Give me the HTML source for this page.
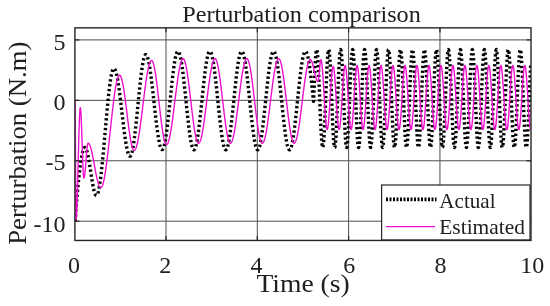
<!DOCTYPE html>
<html><head><meta charset="utf-8"><title>Perturbation comparison</title>
<style>html,body{margin:0;padding:0;background:#fff;}svg{display:block;}</style></head>
<body>
<svg width="550" height="306" viewBox="0 0 550 306" font-family="'Liberation Serif', 'Times New Roman', serif" fill="#202020">
<rect width="550" height="306" fill="#fff"/>
<line x1="166.0" y1="27.85" x2="166.0" y2="240.45" stroke="#4d4d4d" stroke-width="1"/>
<line x1="257.3" y1="27.85" x2="257.3" y2="240.45" stroke="#4d4d4d" stroke-width="1"/>
<line x1="348.6" y1="27.85" x2="348.6" y2="240.45" stroke="#4d4d4d" stroke-width="1"/>
<line x1="439.95" y1="27.85" x2="439.95" y2="240.45" stroke="#4d4d4d" stroke-width="1"/>
<line x1="74.9" y1="39.9" x2="531.0" y2="39.9" stroke="#4d4d4d" stroke-width="1"/>
<line x1="74.9" y1="100.33" x2="531.0" y2="100.33" stroke="#4d4d4d" stroke-width="1"/>
<line x1="74.9" y1="160.77" x2="531.0" y2="160.77" stroke="#4d4d4d" stroke-width="1"/>
<line x1="74.9" y1="221.2" x2="531.0" y2="221.2" stroke="#4d4d4d" stroke-width="1"/>
<clipPath id="c"><rect x="74.9" y="27.85" width="456.1" height="212.6"/></clipPath>
<g clip-path="url(#c)" fill="none">
<path d="M75.20,221.25 L75.44,217.25 L75.69,213.79 L75.93,210.51 L76.17,207.36 L76.41,204.31 L76.66,201.34 L76.90,198.44 L77.14,195.62 L77.38,192.87 L77.62,190.18 L77.87,187.57 L78.11,185.02 L78.35,182.54 L78.59,180.13 L78.84,177.80 L79.08,175.54 L79.32,173.35 L79.56,171.24 L79.81,169.21 L80.05,167.26 L80.29,165.40 L80.54,163.61 L80.78,161.92 L81.02,160.31 L81.26,158.79 L81.51,157.36 L81.75,156.02 L81.99,154.78 L82.23,153.63 L82.48,152.57 L82.72,151.62 L82.96,150.76 L83.20,150.00 L83.45,149.34 L83.69,148.78 L83.93,148.32 L84.17,147.96 L84.42,147.71 L84.66,147.55 L84.90,147.50 L85.15,147.56 L85.40,147.72 L85.65,148.00 L85.90,148.39 L86.15,148.88 L86.40,149.48 L86.65,150.18 L86.90,150.99 L87.15,151.88 L87.40,152.87 L87.65,153.94 L87.90,155.10 L88.15,156.33 L88.40,157.63 L88.65,159.00 L88.90,160.43 L89.15,161.90 L89.40,163.42 L89.65,164.98 L89.90,166.57 L90.15,168.18 L90.40,169.81 L90.65,171.44 L90.90,173.07 L91.15,174.70 L91.40,176.31 L91.65,177.90 L91.90,179.46 L92.15,180.98 L92.40,182.45 L92.65,183.88 L92.90,185.24 L93.15,186.55 L93.40,187.78 L93.65,188.93 L93.90,190.01 L94.15,191.00 L94.40,191.89 L94.65,192.69 L94.90,193.40 L95.15,194.00 L95.40,194.49 L95.65,194.88 L95.90,195.15 L96.15,195.32 L96.40,195.38 L96.65,195.31 L96.90,195.12 L97.15,194.80 L97.40,194.36 L97.65,193.79 L97.90,193.09 L98.15,192.27 L98.40,191.33 L98.65,190.27 L98.90,189.10 L99.15,187.81 L99.40,186.40 L99.65,184.89 L99.90,183.27 L100.15,181.54 L100.40,179.72 L100.65,177.80 L100.90,175.79 L101.15,173.69 L101.40,171.50 L101.65,169.24 L101.90,166.90 L102.15,164.49 L102.40,162.01 L102.65,159.48 L102.90,156.89 L103.15,154.25 L103.40,151.56 L103.65,148.84 L103.90,146.08 L104.15,143.29 L104.40,140.48 L104.65,137.65 L104.90,134.81 L105.15,131.97 L105.40,129.12 L105.65,126.28 L105.90,123.45 L106.15,120.64 L106.40,117.85 L106.65,115.10 L106.90,112.37 L107.15,109.68 L107.40,107.04 L107.65,104.45 L107.90,101.92 L108.15,99.44 L108.40,97.03 L108.65,94.69 L108.90,92.43 L109.15,90.24 L109.40,88.14 L109.65,86.13 L109.90,84.21 L110.15,82.39 L110.40,80.66 L110.65,79.04 L110.90,77.53 L111.15,76.12 L111.40,74.83 L111.65,73.66 L111.90,72.60 L112.15,71.66 L112.40,70.84 L112.65,70.14 L112.90,69.57 L113.15,69.13 L113.40,68.81 L113.65,68.62 L113.90,68.55 L114.15,68.61 L114.40,68.76 L114.65,69.03 L114.91,69.40 L115.16,69.87 L115.41,70.44 L115.66,71.12 L115.91,71.89 L116.16,72.76 L116.42,73.73 L116.67,74.79 L116.92,75.94 L117.17,77.18 L117.42,78.50 L117.67,79.91 L117.93,81.39 L118.18,82.95 L118.43,84.58 L118.68,86.27 L118.93,88.03 L119.18,89.85 L119.43,91.72 L119.69,93.64 L119.94,95.61 L120.19,97.61 L120.44,99.66 L120.69,101.73 L120.94,103.83 L121.20,105.95 L121.45,108.08 L121.70,110.23 L121.95,112.38 L122.20,114.53 L122.45,116.68 L122.70,118.81 L122.96,120.93 L123.21,123.03 L123.46,125.10 L123.71,127.14 L123.96,129.15 L124.21,131.12 L124.47,133.04 L124.72,134.91 L124.97,136.73 L125.22,138.49 L125.47,140.18 L125.72,141.81 L125.97,143.37 L126.23,144.85 L126.48,146.26 L126.73,147.58 L126.98,148.82 L127.23,149.97 L127.48,151.03 L127.74,152.00 L127.99,152.87 L128.24,153.64 L128.49,154.32 L128.74,154.89 L128.99,155.36 L129.25,155.73 L129.50,155.99 L129.75,156.15 L130.00,156.21 L130.25,156.14 L130.50,155.95 L130.75,155.64 L131.00,155.20 L131.25,154.64 L131.50,153.95 L131.76,153.14 L132.01,152.22 L132.26,151.18 L132.51,150.02 L132.76,148.76 L133.01,147.38 L133.26,145.90 L133.51,144.33 L133.76,142.65 L134.01,140.88 L134.26,139.03 L134.51,137.09 L134.77,135.07 L135.02,132.98 L135.27,130.82 L135.52,128.59 L135.77,126.31 L136.02,123.98 L136.27,121.60 L136.52,119.18 L136.77,116.73 L137.02,114.25 L137.27,111.74 L137.52,109.22 L137.77,106.69 L138.03,104.16 L138.28,101.63 L138.53,99.11 L138.78,96.61 L139.03,94.13 L139.28,91.68 L139.53,89.26 L139.78,86.88 L140.03,84.54 L140.28,82.26 L140.53,80.04 L140.78,77.88 L141.03,75.79 L141.29,73.77 L141.54,71.83 L141.79,69.97 L142.04,68.20 L142.29,66.53 L142.54,64.95 L142.79,63.47 L143.04,62.10 L143.29,60.83 L143.54,59.68 L143.79,58.64 L144.04,57.71 L144.30,56.91 L144.55,56.22 L144.80,55.66 L145.05,55.22 L145.30,54.90 L145.55,54.71 L145.80,54.65 L146.05,54.71 L146.30,54.87 L146.56,55.15 L146.81,55.53 L147.06,56.03 L147.31,56.63 L147.57,57.34 L147.82,58.15 L148.07,59.07 L148.32,60.09 L148.58,61.20 L148.83,62.41 L149.08,63.71 L149.33,65.10 L149.58,66.58 L149.84,68.15 L150.09,69.79 L150.34,71.50 L150.59,73.29 L150.85,75.15 L151.10,77.06 L151.35,79.04 L151.60,81.07 L151.86,83.15 L152.11,85.28 L152.36,87.44 L152.61,89.64 L152.86,91.86 L153.12,94.11 L153.37,96.38 L153.62,98.67 L153.87,100.96 L154.13,103.25 L154.38,105.54 L154.63,107.82 L154.88,110.09 L155.14,112.34 L155.39,114.57 L155.64,116.77 L155.89,118.93 L156.14,121.05 L156.40,123.13 L156.65,125.16 L156.90,127.14 L157.15,129.06 L157.41,130.91 L157.66,132.70 L157.91,134.42 L158.16,136.06 L158.42,137.62 L158.67,139.10 L158.92,140.49 L159.17,141.80 L159.42,143.01 L159.68,144.12 L159.93,145.14 L160.18,146.05 L160.43,146.87 L160.69,147.57 L160.94,148.18 L161.19,148.67 L161.44,149.06 L161.70,149.33 L161.95,149.50 L162.20,149.56 L162.45,149.50 L162.70,149.31 L162.95,149.01 L163.20,148.58 L163.45,148.04 L163.70,147.38 L163.96,146.60 L164.21,145.70 L164.46,144.70 L164.71,143.58 L164.96,142.36 L165.21,141.03 L165.46,139.60 L165.71,138.07 L165.96,136.45 L166.21,134.74 L166.46,132.95 L166.71,131.08 L166.97,129.12 L167.22,127.10 L167.47,125.01 L167.72,122.86 L167.97,120.66 L168.22,118.40 L168.47,116.10 L168.72,113.77 L168.97,111.39 L169.22,108.99 L169.47,106.57 L169.72,104.14 L169.97,101.69 L170.23,99.25 L170.48,96.80 L170.73,94.37 L170.98,91.95 L171.23,89.55 L171.48,87.18 L171.73,84.84 L171.98,82.54 L172.23,80.28 L172.48,78.08 L172.73,75.93 L172.98,73.84 L173.23,71.82 L173.49,69.87 L173.74,67.99 L173.99,66.20 L174.24,64.49 L174.49,62.87 L174.74,61.34 L174.99,59.91 L175.24,58.59 L175.49,57.36 L175.74,56.25 L175.99,55.24 L176.24,54.35 L176.50,53.57 L176.75,52.90 L177.00,52.36 L177.25,51.93 L177.50,51.63 L177.75,51.45 L178.00,51.39 L178.25,51.45 L178.50,51.62 L178.75,51.92 L179.00,52.34 L179.25,52.87 L179.50,53.52 L179.75,54.29 L180.00,55.16 L180.25,56.15 L180.50,57.24 L180.75,58.44 L181.00,59.74 L181.25,61.15 L181.50,62.64 L181.75,64.23 L182.00,65.91 L182.25,67.67 L182.50,69.51 L182.75,71.43 L183.00,73.42 L183.25,75.47 L183.50,77.59 L183.75,79.76 L184.00,81.98 L184.25,84.25 L184.50,86.55 L184.75,88.89 L185.00,91.26 L185.25,93.65 L185.50,96.06 L185.75,98.48 L186.00,100.91 L186.25,103.33 L186.50,105.75 L186.75,108.15 L187.00,110.54 L187.25,112.90 L187.50,115.23 L187.75,117.53 L188.00,119.79 L188.25,121.99 L188.50,124.15 L188.75,126.25 L189.00,128.29 L189.25,130.26 L189.50,132.16 L189.75,133.98 L190.00,135.72 L190.25,137.37 L190.50,138.94 L190.75,140.41 L191.00,141.79 L191.25,143.06 L191.50,144.24 L191.75,145.30 L192.00,146.26 L192.25,147.11 L192.50,147.84 L192.75,148.46 L193.00,148.96 L193.25,149.35 L193.50,149.62 L193.75,149.77 L194.00,149.79 L194.25,149.70 L194.50,149.49 L194.75,149.16 L195.00,148.72 L195.25,148.15 L195.50,147.47 L195.75,146.68 L196.00,145.78 L196.25,144.76 L196.50,143.64 L196.75,142.41 L197.00,141.08 L197.25,139.66 L197.50,138.14 L197.75,136.52 L198.00,134.82 L198.25,133.04 L198.50,131.18 L198.75,129.24 L199.00,127.24 L199.25,125.17 L199.50,123.04 L199.75,120.85 L200.00,118.62 L200.25,116.34 L200.50,114.02 L200.75,111.68 L201.00,109.30 L201.25,106.90 L201.50,104.49 L201.75,102.07 L202.00,99.65 L202.25,97.22 L202.50,94.81 L202.75,92.41 L203.00,90.03 L203.25,87.67 L203.50,85.35 L203.75,83.06 L204.00,80.82 L204.25,78.62 L204.50,76.48 L204.75,74.40 L205.00,72.38 L205.25,70.42 L205.50,68.55 L205.75,66.74 L206.00,65.03 L206.25,63.39 L206.50,61.85 L206.75,60.40 L207.00,59.05 L207.25,57.81 L207.50,56.66 L207.75,55.62 L208.00,54.69 L208.25,53.87 L208.50,53.17 L208.75,52.58 L209.00,52.11 L209.25,51.75 L209.50,51.52 L209.75,51.40 L210.00,51.40 L210.25,51.52 L210.50,51.76 L210.75,52.12 L211.00,52.60 L211.25,53.20 L211.50,53.90 L211.75,54.73 L212.00,55.66 L212.25,56.70 L212.50,57.85 L212.75,59.11 L213.00,60.46 L213.25,61.91 L213.50,63.46 L213.75,65.09 L214.00,66.82 L214.25,68.62 L214.50,70.50 L214.75,72.46 L215.00,74.48 L215.25,76.56 L215.50,78.71 L215.75,80.91 L216.00,83.15 L216.25,85.44 L216.50,87.77 L216.75,90.12 L217.00,92.50 L217.25,94.91 L217.50,97.32 L217.75,99.74 L218.00,102.17 L218.25,104.59 L218.50,107.00 L218.75,109.40 L219.00,111.77 L219.25,114.12 L219.50,116.43 L219.75,118.71 L220.00,120.94 L220.25,123.12 L220.50,125.25 L220.75,127.32 L221.00,129.32 L221.25,131.26 L221.50,133.11 L221.75,134.89 L222.00,136.59 L222.25,138.20 L222.50,139.72 L222.75,141.14 L223.00,142.46 L223.25,143.69 L223.50,144.80 L223.75,145.81 L224.00,146.72 L224.25,147.50 L224.50,148.18 L224.75,148.74 L225.00,149.18 L225.25,149.50 L225.50,149.71 L225.75,149.80 L226.00,149.76 L226.25,149.61 L226.50,149.34 L226.75,148.95 L227.00,148.44 L227.25,147.81 L227.50,147.08 L227.75,146.22 L228.00,145.26 L228.25,144.19 L228.50,143.01 L228.75,141.73 L229.00,140.35 L229.25,138.88 L229.50,137.31 L229.75,135.65 L230.00,133.91 L230.25,132.08 L230.50,130.18 L230.75,128.21 L231.00,126.17 L231.25,124.07 L231.50,121.91 L231.75,119.70 L232.00,117.44 L232.25,115.14 L232.50,112.81 L232.75,110.44 L233.00,108.06 L233.25,105.65 L233.50,103.23 L233.75,100.81 L234.00,98.39 L234.25,95.97 L234.50,93.56 L234.75,91.17 L235.00,88.80 L235.25,86.46 L235.50,84.16 L235.75,81.89 L236.00,79.67 L236.25,77.50 L236.50,75.39 L236.75,73.34 L237.00,71.35 L237.25,69.44 L237.50,67.60 L237.75,65.84 L238.00,64.17 L238.25,62.58 L238.50,61.09 L238.75,59.69 L239.00,58.39 L239.25,57.20 L239.50,56.11 L239.75,55.12 L240.00,54.25 L240.25,53.49 L240.50,52.85 L240.75,52.32 L241.00,51.91 L241.25,51.61 L241.50,51.44 L241.75,51.39 L242.00,51.45 L242.25,51.63 L242.50,51.94 L242.75,52.36 L243.00,52.90 L243.25,53.55 L243.50,54.32 L243.75,55.20 L244.00,56.19 L244.25,57.29 L244.50,58.49 L244.75,59.80 L245.00,61.20 L245.25,62.70 L245.50,64.30 L245.75,65.98 L246.00,67.74 L246.25,69.59 L246.50,71.51 L246.75,73.50 L247.00,75.56 L247.25,77.67 L247.50,79.85 L247.75,82.07 L248.00,84.34 L248.25,86.65 L248.50,88.99 L248.75,91.36 L249.00,93.75 L249.25,96.16 L249.50,98.58 L249.75,101.00 L250.00,103.43 L250.25,105.84 L250.50,108.25 L250.75,110.63 L251.00,113.00 L251.25,115.33 L251.50,117.62 L251.75,119.88 L252.00,122.08 L252.25,124.24 L252.50,126.33 L252.75,128.37 L253.00,130.34 L253.25,132.23 L253.50,134.05 L253.75,135.79 L254.00,137.44 L254.25,139.00 L254.50,140.47 L254.75,141.84 L255.00,143.11 L255.25,144.28 L255.50,145.34 L255.75,146.30 L256.00,147.14 L256.25,147.87 L256.50,148.48 L256.75,148.98 L257.00,149.36 L257.25,149.63 L257.50,149.77 L257.75,149.79 L258.00,149.70 L258.25,149.48 L258.50,149.15 L258.75,148.70 L259.00,148.13 L259.25,147.44 L259.50,146.65 L259.75,145.74 L260.00,144.72 L260.25,143.59 L260.50,142.36 L260.75,141.03 L261.00,139.60 L261.25,138.07 L261.50,136.46 L261.75,134.75 L262.00,132.97 L262.25,131.10 L262.50,129.16 L262.75,127.16 L263.00,125.08 L263.25,122.95 L263.50,120.76 L263.75,118.53 L264.00,116.25 L264.25,113.93 L264.50,111.58 L264.75,109.21 L265.00,106.81 L265.25,104.40 L265.50,101.97 L265.75,99.55 L266.00,97.13 L266.25,94.71 L266.50,92.31 L266.75,89.93 L267.00,87.58 L267.25,85.26 L267.50,82.97 L267.75,80.73 L268.00,78.54 L268.25,76.40 L268.50,74.31 L268.75,72.30 L269.00,70.35 L269.25,68.47 L269.50,66.67 L269.75,64.96 L270.00,63.33 L270.25,61.79 L270.50,60.35 L270.75,59.00 L271.00,57.76 L271.25,56.62 L271.50,55.58 L271.75,54.66 L272.00,53.84 L272.25,53.14 L272.50,52.56 L272.75,52.09 L273.00,51.74 L273.25,51.51 L273.50,51.40 L273.75,51.40 L274.00,51.53 L274.25,51.78 L274.50,52.14 L274.75,52.62 L275.00,53.22 L275.25,53.94 L275.50,54.76 L275.75,55.70 L276.00,56.75 L276.25,57.90 L276.50,59.16 L276.75,60.52 L277.00,61.97 L277.25,63.52 L277.50,65.16 L277.75,66.89 L278.00,68.69 L278.25,70.58 L278.50,72.54 L278.75,74.56 L279.00,76.65 L279.25,78.80 L279.50,81.00 L279.75,83.24 L280.00,85.53 L280.25,87.86 L280.50,90.22 L280.75,92.60 L281.00,95.00 L281.25,97.42 L281.50,99.84 L281.75,102.26 L282.00,104.69 L282.25,107.10 L282.50,109.49 L282.75,111.87 L283.00,114.21 L283.25,116.52 L283.50,118.80 L283.75,121.03 L284.00,123.21 L284.25,125.33 L284.50,127.40 L284.75,129.40 L285.00,131.33 L285.25,133.19 L285.50,134.96 L285.75,136.66 L286.00,138.26 L286.25,139.78 L286.50,141.19 L286.75,142.51 L287.00,143.73 L287.25,144.85 L287.50,145.85 L287.75,146.75 L288.00,147.53 L288.25,148.20 L288.50,148.76 L288.75,149.19 L289.00,149.51 L289.25,149.71 L289.50,149.80 L289.75,149.76 L290.00,149.60 L290.25,149.32 L290.50,148.93 L290.75,148.42 L291.00,147.79 L291.25,147.04 L291.50,146.19 L291.75,145.22 L292.00,144.15 L292.25,142.97 L292.50,141.68 L292.75,140.30 L293.00,138.82 L293.25,137.24 L293.50,135.58 L293.75,133.84 L294.00,132.01 L294.25,130.10 L294.50,128.13 L294.75,126.09 L295.00,123.98 L295.25,121.82 L295.50,119.61 L295.75,117.35 L296.00,115.05 L296.25,112.71 L296.50,110.35 L296.75,107.96 L297.00,105.56 L297.25,103.14 L297.50,100.71 L297.75,98.29 L298.00,95.87 L298.25,93.46 L298.50,91.07 L298.75,88.71 L299.00,86.37 L299.25,84.06 L299.50,81.80 L299.75,79.58 L300.00,77.42 L300.25,75.31 L300.50,73.26 L300.75,71.27 L301.00,69.36 L301.25,67.53 L301.50,65.77 L301.75,64.10 L302.00,62.52 L302.25,61.03 L302.50,59.64 L302.75,58.34 L303.00,57.15 L303.25,56.06 L303.50,55.09 L303.75,54.22 L304.00,53.47 L304.25,52.83 L304.50,52.30 L304.75,51.89 L305.00,51.61 L305.25,51.44 L305.50,51.39 L305.75,51.46 L306.00,51.64 L306.25,51.95 L306.50,52.38 L306.75,52.92 L307.00,53.58 L307.25,54.35 L307.50,55.24 L307.75,56.23 L308.00,57.33 L308.25,58.54 L308.50,59.85 L308.75,61.26 L309.00,62.77 L309.25,64.36 L309.50,66.05 L309.75,67.82 L310.00,69.66 L310.25,71.59 L310.50,73.58 L310.75,75.64 L311.00,77.76 L311.25,79.93 L311.50,82.16 L311.75,84.43 L312.00,86.74 L312.25,89.08 L312.50,91.45 L312.75,93.85 L313.00,96.26 L313.25,98.68 L313.50,101.10 L313.60,101.26 L313.80,96.13 L314.00,91.02 L314.20,85.99 L314.40,81.10 L314.60,76.41 L314.80,71.95 L315.00,67.79 L315.20,63.97 L315.40,60.53 L315.60,57.50 L315.80,54.93 L316.00,52.84 L316.20,51.25 L316.40,50.18 L316.60,49.64 L316.80,49.64 L317.00,50.18 L317.20,51.25 L317.40,52.84 L317.60,54.93 L317.80,57.50 L318.00,60.53 L318.20,63.97 L318.40,67.79 L318.60,71.95 L318.80,76.41 L319.00,81.10 L319.20,85.99 L319.40,91.02 L319.60,96.13 L319.80,101.26 L320.00,106.37 L320.20,111.39 L320.40,116.27 L320.60,120.95 L320.80,125.39 L321.00,129.53 L321.20,133.33 L321.40,136.75 L321.60,139.74 L321.80,142.29 L322.00,144.35 L322.20,145.91 L322.40,146.94 L322.60,147.45 L322.80,147.42 L323.00,146.84 L323.20,145.74 L323.40,144.12 L323.60,142.00 L323.80,139.39 L324.00,136.34 L324.20,132.87 L324.40,129.03 L324.60,124.85 L324.80,120.38 L325.00,115.67 L325.20,110.77 L325.40,105.74 L325.60,100.62 L325.80,95.49 L326.00,90.39 L326.20,85.37 L326.40,80.51 L326.60,75.84 L326.80,71.42 L327.00,67.30 L327.20,63.52 L327.40,60.13 L327.60,57.16 L327.80,54.64 L328.00,52.61 L328.20,51.08 L328.40,50.08 L328.60,49.61 L328.80,49.68 L329.00,50.28 L329.20,51.42 L329.40,53.07 L329.60,55.23 L329.80,57.86 L330.00,60.94 L330.20,64.43 L330.40,68.30 L330.60,72.50 L330.80,76.98 L331.00,81.71 L331.20,86.61 L331.40,91.65 L331.60,96.77 L331.80,101.91 L332.00,107.00 L332.20,112.01 L332.40,116.87 L332.60,121.52 L332.80,125.92 L333.00,130.02 L333.20,133.78 L333.40,137.15 L333.60,140.09 L333.80,142.57 L334.00,144.57 L334.20,146.07 L334.40,147.04 L334.60,147.47 L334.80,147.37 L335.00,146.74 L335.20,145.57 L335.40,143.88 L335.60,141.70 L335.80,139.04 L336.00,135.93 L336.20,132.41 L336.40,128.52 L336.60,124.30 L336.80,119.80 L337.00,115.07 L337.20,110.15 L337.40,105.10 L337.60,99.98 L337.80,94.85 L338.00,89.75 L338.20,84.76 L338.40,79.91 L338.60,75.27 L338.80,70.88 L339.00,66.80 L339.20,63.07 L339.40,59.73 L339.60,56.82 L339.80,54.36 L340.00,52.39 L340.20,50.93 L340.40,49.99 L340.60,49.59 L340.80,49.72 L341.00,50.40 L341.20,51.60 L341.40,53.31 L341.60,55.53 L341.80,58.22 L342.00,61.35 L342.20,64.89 L342.40,68.80 L342.60,73.04 L342.80,77.56 L343.00,82.31 L343.20,87.24 L343.40,92.29 L343.60,97.41 L343.80,102.55 L344.00,107.64 L344.20,112.63 L344.40,117.46 L344.60,122.09 L344.80,126.45 L345.00,130.51 L345.20,134.22 L345.40,137.54 L345.60,140.42 L345.80,142.85 L346.00,144.79 L346.20,146.22 L346.40,147.12 L346.60,147.49 L346.80,147.32 L347.00,146.62 L347.20,145.38 L347.40,143.63 L347.60,141.39 L347.80,138.67 L348.00,135.51 L348.20,131.95 L348.40,128.01 L348.60,123.76 L348.80,119.22 L349.00,114.46 L349.20,109.52 L349.40,104.46 L349.60,99.34 L349.80,94.21 L350.00,89.12 L350.20,84.14 L350.40,79.32 L350.60,74.71 L350.80,70.36 L351.00,66.32 L351.20,62.63 L351.40,59.34 L351.60,56.48 L351.80,54.09 L352.00,52.18 L352.20,50.78 L352.40,49.91 L352.60,49.58 L352.80,49.78 L353.00,50.52 L353.20,51.78 L353.40,53.56 L353.60,55.84 L353.80,58.59 L354.00,61.77 L354.20,65.36 L354.40,69.32 L354.60,73.59 L354.80,78.14 L355.00,82.92 L355.20,87.86 L355.40,92.93 L355.60,98.05 L355.80,103.19 L356.00,108.27 L356.20,113.24 L356.40,118.05 L356.60,122.65 L356.80,126.98 L357.00,131.00 L357.20,134.66 L357.40,137.92 L357.60,140.75 L357.80,143.12 L358.00,144.99 L358.20,146.36 L358.40,147.20 L358.60,147.50 L358.80,147.26 L359.00,146.49 L359.20,145.19 L359.40,143.38 L359.60,141.07 L359.80,138.30 L360.00,135.09 L360.20,131.47 L360.40,127.50 L360.60,123.20 L360.80,118.64 L361.00,113.85 L361.20,108.89 L361.40,103.82 L361.60,98.70 L361.80,93.57 L362.00,88.49 L362.20,83.53 L362.40,78.73 L362.60,74.15 L362.80,69.83 L363.00,65.84 L363.20,62.20 L363.40,58.96 L363.60,56.16 L363.80,53.82 L364.00,51.98 L364.20,50.65 L364.40,49.84 L364.60,49.57 L364.80,49.84 L365.00,50.65 L365.20,51.98 L365.40,53.82 L365.60,56.16 L365.80,58.96 L366.00,62.20 L366.20,65.84 L366.40,69.83 L366.60,74.15 L366.80,78.73 L367.00,83.53 L367.20,88.49 L367.40,93.57 L367.60,98.70 L367.80,103.82 L368.00,108.89 L368.20,113.85 L368.40,118.64 L368.60,123.20 L368.80,127.50 L369.00,131.47 L369.20,135.09 L369.40,138.30 L369.60,141.07 L369.80,143.38 L370.00,145.19 L370.20,146.49 L370.40,147.26 L370.60,147.50 L370.80,147.20 L371.00,146.36 L371.20,144.99 L371.40,143.12 L371.60,140.75 L371.80,137.92 L372.00,134.66 L372.20,131.00 L372.40,126.98 L372.60,122.65 L372.80,118.05 L373.00,113.24 L373.20,108.27 L373.40,103.19 L373.60,98.05 L373.80,92.93 L374.00,87.86 L374.20,82.92 L374.40,78.14 L374.60,73.59 L374.80,69.32 L375.00,65.36 L375.20,61.77 L375.40,58.59 L375.60,55.84 L375.80,53.56 L376.00,51.78 L376.20,50.52 L376.40,49.78 L376.60,49.58 L376.80,49.91 L377.00,50.78 L377.20,52.18 L377.40,54.09 L377.60,56.48 L377.80,59.34 L378.00,62.63 L378.20,66.32 L378.40,70.36 L378.60,74.71 L378.80,79.32 L379.00,84.14 L379.20,89.12 L379.40,94.21 L379.60,99.34 L379.80,104.46 L380.00,109.52 L380.20,114.46 L380.40,119.22 L380.60,123.76 L380.80,128.01 L381.00,131.95 L381.20,135.51 L381.40,138.67 L381.60,141.39 L381.80,143.63 L382.00,145.38 L382.20,146.62 L382.40,147.32 L382.60,147.49 L382.80,147.12 L383.00,146.22 L383.20,144.79 L383.40,142.85 L383.60,140.42 L383.80,137.54 L384.00,134.22 L384.20,130.51 L384.40,126.45 L384.60,122.09 L384.80,117.46 L385.00,112.63 L385.20,107.64 L385.40,102.55 L385.60,97.41 L385.80,92.29 L386.00,87.24 L386.20,82.31 L386.40,77.56 L386.60,73.04 L386.80,68.80 L387.00,64.89 L387.20,61.35 L387.40,58.22 L387.60,55.53 L387.80,53.31 L388.00,51.60 L388.20,50.40 L388.40,49.72 L388.60,49.59 L388.80,49.99 L389.00,50.93 L389.20,52.39 L389.40,54.36 L389.60,56.82 L389.80,59.73 L390.00,63.07 L390.20,66.80 L390.40,70.88 L390.60,75.27 L390.80,79.91 L391.00,84.76 L391.20,89.75 L391.40,94.85 L391.60,99.98 L391.80,105.10 L392.00,110.15 L392.20,115.07 L392.40,119.80 L392.60,124.30 L392.80,128.52 L393.00,132.41 L393.20,135.93 L393.40,139.04 L393.60,141.70 L393.80,143.88 L394.00,145.57 L394.20,146.74 L394.40,147.37 L394.60,147.47 L394.80,147.04 L395.00,146.07 L395.20,144.57 L395.40,142.57 L395.60,140.09 L395.80,137.15 L396.00,133.78 L396.20,130.02 L396.40,125.92 L396.60,121.52 L396.80,116.87 L397.00,112.01 L397.20,107.00 L397.40,101.91 L397.60,96.77 L397.80,91.65 L398.00,86.61 L398.20,81.71 L398.40,76.98 L398.60,72.50 L398.80,68.30 L399.00,64.43 L399.20,60.94 L399.40,57.86 L399.60,55.23 L399.80,53.07 L400.00,51.42 L400.20,50.28 L400.40,49.68 L400.60,49.61 L400.80,50.08 L401.00,51.08 L401.20,52.61 L401.40,54.64 L401.60,57.16 L401.80,60.13 L402.00,63.52 L402.20,67.30 L402.40,71.42 L402.60,75.84 L402.80,80.51 L403.00,85.37 L403.20,90.39 L403.40,95.49 L403.60,100.62 L403.80,105.74 L404.00,110.77 L404.20,115.67 L404.40,120.38 L404.60,124.85 L404.80,129.03 L405.00,132.87 L405.20,136.34 L405.40,139.39 L405.60,142.00 L405.80,144.12 L406.00,145.74 L406.20,146.84 L406.40,147.42 L406.60,147.45 L406.80,146.94 L407.00,145.91 L407.20,144.35 L407.40,142.29 L407.60,139.74 L407.80,136.75 L408.00,133.33 L408.20,129.53 L408.40,125.39 L408.60,120.95 L408.80,116.27 L409.00,111.39 L409.20,106.37 L409.40,101.26 L409.60,96.13 L409.80,91.02 L410.00,85.99 L410.20,81.10 L410.40,76.41 L410.60,71.95 L410.80,67.79 L411.00,63.97 L411.20,60.53 L411.40,57.50 L411.60,54.93 L411.80,52.84 L412.00,51.25 L412.20,50.18 L412.40,49.64 L412.60,49.64 L412.80,50.18 L413.00,51.25 L413.20,52.84 L413.40,54.93 L413.60,57.50 L413.80,60.53 L414.00,63.97 L414.20,67.79 L414.40,71.95 L414.60,76.41 L414.80,81.10 L415.00,85.99 L415.20,91.02 L415.40,96.13 L415.60,101.26 L415.80,106.37 L416.00,111.39 L416.20,116.27 L416.40,120.95 L416.60,125.39 L416.80,129.53 L417.00,133.33 L417.20,136.75 L417.40,139.74 L417.60,142.29 L417.80,144.35 L418.00,145.91 L418.20,146.94 L418.40,147.45 L418.60,147.42 L418.80,146.84 L419.00,145.74 L419.20,144.12 L419.40,142.00 L419.60,139.39 L419.80,136.34 L420.00,132.87 L420.20,129.03 L420.40,124.85 L420.60,120.38 L420.80,115.67 L421.00,110.77 L421.20,105.74 L421.40,100.62 L421.60,95.49 L421.80,90.39 L422.00,85.37 L422.20,80.51 L422.40,75.84 L422.60,71.42 L422.80,67.30 L423.00,63.52 L423.20,60.13 L423.40,57.16 L423.60,54.64 L423.80,52.61 L424.00,51.08 L424.20,50.08 L424.40,49.61 L424.60,49.68 L424.80,50.28 L425.00,51.42 L425.20,53.07 L425.40,55.23 L425.60,57.86 L425.80,60.94 L426.00,64.43 L426.20,68.30 L426.40,72.50 L426.60,76.98 L426.80,81.71 L427.00,86.61 L427.20,91.65 L427.40,96.77 L427.60,101.91 L427.80,107.00 L428.00,112.01 L428.20,116.87 L428.40,121.52 L428.60,125.92 L428.80,130.02 L429.00,133.78 L429.20,137.15 L429.40,140.09 L429.60,142.57 L429.80,144.57 L430.00,146.07 L430.20,147.04 L430.40,147.47 L430.60,147.37 L430.80,146.74 L431.00,145.57 L431.20,143.88 L431.40,141.70 L431.60,139.04 L431.80,135.93 L432.00,132.41 L432.20,128.52 L432.40,124.30 L432.60,119.80 L432.80,115.07 L433.00,110.15 L433.20,105.10 L433.40,99.98 L433.60,94.85 L433.80,89.75 L434.00,84.76 L434.20,79.91 L434.40,75.27 L434.60,70.88 L434.80,66.80 L435.00,63.07 L435.20,59.73 L435.40,56.82 L435.60,54.36 L435.80,52.39 L436.00,50.93 L436.20,49.99 L436.40,49.59 L436.60,49.72 L436.80,50.40 L437.00,51.60 L437.20,53.31 L437.40,55.53 L437.60,58.22 L437.80,61.35 L438.00,64.89 L438.20,68.80 L438.40,73.04 L438.60,77.56 L438.80,82.31 L439.00,87.24 L439.20,92.29 L439.40,97.41 L439.60,102.55 L439.80,107.64 L440.00,112.63 L440.20,117.46 L440.40,122.09 L440.60,126.45 L440.80,130.51 L441.00,134.22 L441.20,137.54 L441.40,140.42 L441.60,142.85 L441.80,144.79 L442.00,146.22 L442.20,147.12 L442.40,147.49 L442.60,147.32 L442.80,146.62 L443.00,145.38 L443.20,143.63 L443.40,141.39 L443.60,138.67 L443.80,135.51 L444.00,131.95 L444.20,128.01 L444.40,123.76 L444.60,119.22 L444.80,114.46 L445.00,109.52 L445.20,104.46 L445.40,99.34 L445.60,94.21 L445.80,89.12 L446.00,84.14 L446.20,79.32 L446.40,74.71 L446.60,70.36 L446.80,66.32 L447.00,62.63 L447.20,59.34 L447.40,56.48 L447.60,54.09 L447.80,52.18 L448.00,50.78 L448.20,49.91 L448.40,49.58 L448.60,49.78 L448.80,50.52 L449.00,51.78 L449.20,53.56 L449.40,55.84 L449.60,58.59 L449.80,61.77 L450.00,65.36 L450.20,69.32 L450.40,73.59 L450.60,78.14 L450.80,82.92 L451.00,87.86 L451.20,92.93 L451.40,98.05 L451.60,103.19 L451.80,108.27 L452.00,113.24 L452.20,118.05 L452.40,122.65 L452.60,126.98 L452.80,131.00 L453.00,134.66 L453.20,137.92 L453.40,140.75 L453.60,143.12 L453.80,144.99 L454.00,146.36 L454.20,147.20 L454.40,147.50 L454.60,147.26 L454.80,146.49 L455.00,145.19 L455.20,143.38 L455.40,141.07 L455.60,138.30 L455.80,135.09 L456.00,131.47 L456.20,127.50 L456.40,123.20 L456.60,118.64 L456.80,113.85 L457.00,108.89 L457.20,103.82 L457.40,98.70 L457.60,93.57 L457.80,88.49 L458.00,83.53 L458.20,78.73 L458.40,74.15 L458.60,69.83 L458.80,65.84 L459.00,62.20 L459.20,58.96 L459.40,56.16 L459.60,53.82 L459.80,51.98 L460.00,50.65 L460.20,49.84 L460.40,49.57 L460.60,49.84 L460.80,50.65 L461.00,51.98 L461.20,53.82 L461.40,56.16 L461.60,58.96 L461.80,62.20 L462.00,65.84 L462.20,69.83 L462.40,74.15 L462.60,78.73 L462.80,83.53 L463.00,88.49 L463.20,93.57 L463.40,98.70 L463.60,103.82 L463.80,108.89 L464.00,113.85 L464.20,118.64 L464.40,123.20 L464.60,127.50 L464.80,131.47 L465.00,135.09 L465.20,138.30 L465.40,141.07 L465.60,143.38 L465.80,145.19 L466.00,146.49 L466.20,147.26 L466.40,147.50 L466.60,147.20 L466.80,146.36 L467.00,144.99 L467.20,143.12 L467.40,140.75 L467.60,137.92 L467.80,134.66 L468.00,131.00 L468.20,126.98 L468.40,122.65 L468.60,118.05 L468.80,113.24 L469.00,108.27 L469.20,103.19 L469.40,98.05 L469.60,92.93 L469.80,87.86 L470.00,82.92 L470.20,78.14 L470.40,73.59 L470.60,69.32 L470.80,65.36 L471.00,61.77 L471.20,58.59 L471.40,55.84 L471.60,53.56 L471.80,51.78 L472.00,50.52 L472.20,49.78 L472.40,49.58 L472.60,49.91 L472.80,50.78 L473.00,52.18 L473.20,54.09 L473.40,56.48 L473.60,59.34 L473.80,62.63 L474.00,66.32 L474.20,70.36 L474.40,74.71 L474.60,79.32 L474.80,84.14 L475.00,89.12 L475.20,94.21 L475.40,99.34 L475.60,104.46 L475.80,109.52 L476.00,114.46 L476.20,119.22 L476.40,123.76 L476.60,128.01 L476.80,131.95 L477.00,135.51 L477.20,138.67 L477.40,141.39 L477.60,143.63 L477.80,145.38 L478.00,146.62 L478.20,147.32 L478.40,147.49 L478.60,147.12 L478.80,146.22 L479.00,144.79 L479.20,142.85 L479.40,140.42 L479.60,137.54 L479.80,134.22 L480.00,130.51 L480.20,126.45 L480.40,122.09 L480.60,117.46 L480.80,112.63 L481.00,107.64 L481.20,102.55 L481.40,97.41 L481.60,92.29 L481.80,87.24 L482.00,82.31 L482.20,77.56 L482.40,73.04 L482.60,68.80 L482.80,64.89 L483.00,61.35 L483.20,58.22 L483.40,55.53 L483.60,53.31 L483.80,51.60 L484.00,50.40 L484.20,49.72 L484.40,49.59 L484.60,49.99 L484.80,50.93 L485.00,52.39 L485.20,54.36 L485.40,56.82 L485.60,59.73 L485.80,63.07 L486.00,66.80 L486.20,70.88 L486.40,75.27 L486.60,79.91 L486.80,84.76 L487.00,89.75 L487.20,94.85 L487.40,99.98 L487.60,105.10 L487.80,110.15 L488.00,115.07 L488.20,119.80 L488.40,124.30 L488.60,128.52 L488.80,132.41 L489.00,135.93 L489.20,139.04 L489.40,141.70 L489.60,143.88 L489.80,145.57 L490.00,146.74 L490.20,147.37 L490.40,147.47 L490.60,147.04 L490.80,146.07 L491.00,144.57 L491.20,142.57 L491.40,140.09 L491.60,137.15 L491.80,133.78 L492.00,130.02 L492.20,125.92 L492.40,121.52 L492.60,116.87 L492.80,112.01 L493.00,107.00 L493.20,101.91 L493.40,96.77 L493.60,91.65 L493.80,86.61 L494.00,81.71 L494.20,76.98 L494.40,72.50 L494.60,68.30 L494.80,64.43 L495.00,60.94 L495.20,57.86 L495.40,55.23 L495.60,53.07 L495.80,51.42 L496.00,50.28 L496.20,49.68 L496.40,49.61 L496.60,50.08 L496.80,51.08 L497.00,52.61 L497.20,54.64 L497.40,57.16 L497.60,60.13 L497.80,63.52 L498.00,67.30 L498.20,71.42 L498.40,75.84 L498.60,80.51 L498.80,85.37 L499.00,90.39 L499.20,95.49 L499.40,100.62 L499.60,105.74 L499.80,110.77 L500.00,115.67 L500.20,120.38 L500.40,124.85 L500.60,129.03 L500.80,132.87 L501.00,136.34 L501.20,139.39 L501.40,142.00 L501.60,144.12 L501.80,145.74 L502.00,146.84 L502.20,147.42 L502.40,147.45 L502.60,146.94 L502.80,145.91 L503.00,144.35 L503.20,142.29 L503.40,139.74 L503.60,136.75 L503.80,133.33 L504.00,129.53 L504.20,125.39 L504.40,120.95 L504.60,116.27 L504.80,111.39 L505.00,106.37 L505.20,101.26 L505.40,96.13 L505.60,91.02 L505.80,85.99 L506.00,81.10 L506.20,76.41 L506.40,71.95 L506.60,67.79 L506.80,63.97 L507.00,60.53 L507.20,57.50 L507.40,54.93 L507.60,52.84 L507.80,51.25 L508.00,50.18 L508.20,49.64 L508.40,49.64 L508.60,50.18 L508.80,51.25 L509.00,52.84 L509.20,54.93 L509.40,57.50 L509.60,60.53 L509.80,63.97 L510.00,67.79 L510.20,71.95 L510.40,76.41 L510.60,81.10 L510.80,85.99 L511.00,91.02 L511.20,96.13 L511.40,101.26 L511.60,106.37 L511.80,111.39 L512.00,116.27 L512.20,120.95 L512.40,125.39 L512.60,129.53 L512.80,133.33 L513.00,136.75 L513.20,139.74 L513.40,142.29 L513.60,144.35 L513.80,145.91 L514.00,146.94 L514.20,147.45 L514.40,147.42 L514.60,146.84 L514.80,145.74 L515.00,144.12 L515.20,142.00 L515.40,139.39 L515.60,136.34 L515.80,132.87 L516.00,129.03 L516.20,124.85 L516.40,120.38 L516.60,115.67 L516.80,110.77 L517.00,105.74 L517.20,100.62 L517.40,95.49 L517.60,90.39 L517.80,85.37 L518.00,80.51 L518.20,75.84 L518.40,71.42 L518.60,67.30 L518.80,63.52 L519.00,60.13 L519.20,57.16 L519.40,54.64 L519.60,52.61 L519.80,51.08 L520.00,50.08 L520.20,49.61 L520.40,49.68 L520.60,50.28 L520.80,51.42 L521.00,53.07 L521.20,55.23 L521.40,57.86 L521.60,60.94 L521.80,64.43 L522.00,68.30 L522.20,72.50 L522.40,76.98 L522.60,81.71 L522.80,86.61 L523.00,91.65 L523.20,96.77 L523.40,101.91 L523.60,107.00 L523.80,112.01 L524.00,116.87 L524.20,121.52 L524.40,125.92 L524.60,130.02 L524.80,133.78 L525.00,137.15 L525.20,140.09 L525.40,142.57 L525.60,144.57 L525.80,146.07 L526.00,147.04 L526.20,147.47 L526.40,147.37 L526.60,146.74 L526.80,145.57 L527.00,143.88 L527.20,141.70 L527.40,139.04 L527.60,135.93 L527.80,132.41 L528.00,128.52 L528.20,124.30 L528.40,119.80 L528.60,115.07 L528.80,110.15 L529.00,105.10 L529.20,99.98 L529.40,94.85 L529.60,89.75 L529.80,84.76 L530.00,79.91 L530.20,75.27 L530.40,70.88 L530.60,66.80 L530.80,63.07" stroke="#000" stroke-width="3.4" stroke-dasharray="2.3 2.6" stroke-linejoin="round"/>
<path d="M75.00,100.35 L75.25,117.88 L75.50,160.20 L75.75,202.51 L76.00,220.04 L76.25,219.08 L76.51,216.25 L76.76,211.63 L77.01,205.38 L77.26,197.73 L77.52,188.91 L77.77,179.25 L78.02,169.06 L78.28,158.70 L78.53,148.51 L78.78,138.85 L79.04,130.04 L79.29,122.38 L79.54,116.14 L79.79,111.52 L80.05,108.68 L80.30,107.72 L80.56,108.61 L80.81,111.21 L81.07,115.40 L81.33,120.97 L81.59,127.64 L81.84,135.08 L82.10,142.91 L82.36,150.74 L82.61,158.17 L82.87,164.84 L83.13,170.41 L83.39,174.60 L83.64,177.21 L83.90,178.09 L84.16,177.75 L84.43,176.76 L84.69,175.14 L84.95,172.97 L85.21,170.32 L85.47,167.30 L85.74,164.03 L86.00,160.62 L86.26,157.21 L86.53,153.93 L86.79,150.91 L87.05,148.27 L87.31,146.09 L87.57,144.48 L87.84,143.48 L88.10,143.15 L88.35,143.19 L88.61,143.32 L88.86,143.54 L89.12,143.85 L89.37,144.24 L89.62,144.71 L89.88,145.27 L90.13,145.90 L90.39,146.61 L90.64,147.40 L90.89,148.25 L91.15,149.18 L91.40,150.17 L91.66,151.21 L91.91,152.32 L92.16,153.47 L92.42,154.68 L92.67,155.92 L92.93,157.21 L93.18,158.52 L93.43,159.86 L93.69,161.23 L93.94,162.61 L94.20,164.00 L94.45,165.39 L94.70,166.79 L94.96,168.18 L95.21,169.56 L95.47,170.93 L95.72,172.27 L95.97,173.58 L96.23,174.87 L96.48,176.11 L96.74,177.31 L96.99,178.47 L97.24,179.57 L97.50,180.62 L97.75,181.61 L98.01,182.53 L98.26,183.39 L98.51,184.18 L98.77,184.89 L99.02,185.52 L99.28,186.08 L99.53,186.55 L99.78,186.94 L100.04,187.25 L100.29,187.46 L100.55,187.60 L100.80,187.64 L101.05,187.59 L101.30,187.44 L101.55,187.20 L101.80,186.85 L102.05,186.41 L102.30,185.87 L102.55,185.24 L102.81,184.51 L103.06,183.69 L103.31,182.78 L103.56,181.78 L103.81,180.69 L104.06,179.51 L104.31,178.25 L104.56,176.90 L104.81,175.48 L105.06,173.98 L105.31,172.40 L105.56,170.76 L105.81,169.04 L106.06,167.26 L106.31,165.41 L106.57,163.51 L106.82,161.54 L107.07,159.53 L107.32,157.47 L107.57,155.36 L107.82,153.21 L108.07,151.02 L108.32,148.79 L108.57,146.54 L108.82,144.26 L109.07,141.96 L109.32,139.63 L109.57,137.30 L109.82,134.95 L110.07,132.60 L110.33,130.24 L110.58,127.89 L110.83,125.54 L111.08,123.21 L111.33,120.89 L111.58,118.58 L111.83,116.30 L112.08,114.05 L112.33,111.83 L112.58,109.64 L112.83,107.48 L113.08,105.38 L113.33,103.31 L113.58,101.30 L113.83,99.34 L114.09,97.43 L114.34,95.59 L114.59,93.80 L114.84,92.09 L115.09,90.44 L115.34,88.86 L115.59,87.36 L115.84,85.94 L116.09,84.60 L116.34,83.33 L116.59,82.16 L116.84,81.07 L117.09,80.06 L117.34,79.15 L117.59,78.33 L117.85,77.60 L118.10,76.97 L118.35,76.43 L118.60,75.99 L118.85,75.65 L119.10,75.40 L119.35,75.25 L119.60,75.20 L119.85,75.26 L120.10,75.42 L120.36,75.70 L120.61,76.08 L120.86,76.57 L121.11,77.17 L121.36,77.87 L121.61,78.68 L121.87,79.58 L122.12,80.58 L122.37,81.68 L122.62,82.87 L122.87,84.15 L123.12,85.51 L123.38,86.95 L123.63,88.46 L123.88,90.05 L124.13,91.70 L124.38,93.42 L124.63,95.19 L124.89,97.01 L125.14,98.89 L125.39,100.80 L125.64,102.74 L125.89,104.72 L126.14,106.72 L126.40,108.74 L126.65,110.77 L126.90,112.80 L127.15,114.84 L127.40,116.87 L127.66,118.89 L127.91,120.89 L128.16,122.86 L128.41,124.81 L128.66,126.72 L128.91,128.59 L129.17,130.41 L129.42,132.19 L129.67,133.90 L129.92,135.56 L130.17,137.14 L130.42,138.66 L130.68,140.10 L130.93,141.46 L131.18,142.74 L131.43,143.92 L131.68,145.02 L131.93,146.02 L132.19,146.93 L132.44,147.73 L132.69,148.43 L132.94,149.03 L133.19,149.52 L133.44,149.91 L133.70,150.18 L133.95,150.35 L134.20,150.40 L134.45,150.36 L134.70,150.22 L134.96,149.98 L135.21,149.66 L135.46,149.24 L135.71,148.73 L135.97,148.14 L136.22,147.45 L136.47,146.68 L136.72,145.82 L136.97,144.88 L137.23,143.86 L137.48,142.75 L137.73,141.57 L137.98,140.32 L138.23,138.99 L138.49,137.59 L138.74,136.13 L138.99,134.60 L139.24,133.01 L139.50,131.36 L139.75,129.66 L140.00,127.92 L140.25,126.12 L140.50,124.28 L140.76,122.40 L141.01,120.49 L141.26,118.54 L141.51,116.57 L141.77,114.58 L142.02,112.56 L142.27,110.54 L142.52,108.50 L142.77,106.45 L143.03,104.40 L143.28,102.36 L143.53,100.32 L143.78,98.29 L144.03,96.28 L144.29,94.28 L144.54,92.31 L144.79,90.37 L145.04,88.45 L145.30,86.58 L145.55,84.74 L145.80,82.94 L146.05,81.19 L146.30,79.49 L146.56,77.85 L146.81,76.26 L147.06,74.73 L147.31,73.27 L147.57,71.87 L147.82,70.54 L148.07,69.28 L148.32,68.10 L148.57,67.00 L148.83,65.98 L149.08,65.03 L149.33,64.18 L149.58,63.40 L149.83,62.72 L150.09,62.12 L150.34,61.61 L150.59,61.20 L150.84,60.87 L151.10,60.64 L151.35,60.50 L151.60,60.45 L151.85,60.51 L152.11,60.69 L152.36,60.99 L152.61,61.40 L152.86,61.94 L153.12,62.58 L153.37,63.34 L153.62,64.21 L153.87,65.19 L154.13,66.28 L154.38,67.47 L154.63,68.75 L154.88,70.14 L155.14,71.61 L155.39,73.17 L155.64,74.82 L155.89,76.54 L156.15,78.34 L156.40,80.21 L156.65,82.14 L156.90,84.13 L157.16,86.17 L157.41,88.25 L157.66,90.38 L157.91,92.54 L158.17,94.73 L158.42,96.94 L158.67,99.17 L158.92,101.41 L159.18,103.65 L159.43,105.88 L159.68,108.11 L159.93,110.32 L160.19,112.51 L160.44,114.67 L160.69,116.80 L160.94,118.89 L161.20,120.93 L161.45,122.91 L161.70,124.84 L161.95,126.71 L162.21,128.51 L162.46,130.23 L162.71,131.88 L162.96,133.44 L163.22,134.92 L163.47,136.30 L163.72,137.59 L163.97,138.77 L164.23,139.86 L164.48,140.84 L164.73,141.71 L164.98,142.47 L165.24,143.12 L165.49,143.65 L165.74,144.06 L165.99,144.36 L166.25,144.54 L166.50,144.60 L166.75,144.55 L167.00,144.41 L167.25,144.16 L167.51,143.82 L167.76,143.39 L168.01,142.86 L168.26,142.24 L168.51,141.52 L168.76,140.72 L169.02,139.83 L169.27,138.85 L169.52,137.79 L169.77,136.64 L170.02,135.42 L170.27,134.12 L170.52,132.74 L170.78,131.30 L171.03,129.79 L171.28,128.21 L171.53,126.58 L171.78,124.88 L172.03,123.14 L172.28,121.35 L172.54,119.51 L172.79,117.63 L173.04,115.72 L173.29,113.77 L173.54,111.80 L173.79,109.80 L174.05,107.79 L174.30,105.76 L174.55,103.72 L174.80,101.68 L175.05,99.64 L175.30,97.60 L175.55,95.57 L175.81,93.56 L176.06,91.56 L176.31,89.59 L176.56,87.64 L176.81,85.73 L177.06,83.85 L177.32,82.01 L177.57,80.22 L177.82,78.48 L178.07,76.78 L178.32,75.15 L178.57,73.57 L178.82,72.06 L179.08,70.62 L179.33,69.24 L179.58,67.94 L179.83,66.72 L180.08,65.57 L180.33,64.51 L180.58,63.53 L180.84,62.64 L181.09,61.83 L181.34,61.12 L181.59,60.50 L181.84,59.97 L182.09,59.54 L182.35,59.20 L182.60,58.95 L182.85,58.81 L183.10,58.76 L183.35,58.82 L183.61,58.98 L183.86,59.26 L184.11,59.65 L184.37,60.15 L184.62,60.76 L184.87,61.48 L185.13,62.30 L185.38,63.22 L185.63,64.24 L185.89,65.36 L186.14,66.58 L186.39,67.88 L186.65,69.28 L186.90,70.75 L187.15,72.31 L187.41,73.95 L187.66,75.65 L187.91,77.43 L188.17,79.26 L188.42,81.16 L188.67,83.10 L188.93,85.10 L189.18,87.13 L189.43,89.21 L189.69,91.31 L189.94,93.44 L190.19,95.59 L190.45,97.75 L190.70,99.93 L190.95,102.10 L191.20,104.28 L191.46,106.44 L191.71,108.59 L191.96,110.72 L192.22,112.82 L192.47,114.90 L192.72,116.93 L192.98,118.93 L193.23,120.87 L193.48,122.77 L193.74,124.60 L193.99,126.38 L194.24,128.08 L194.50,129.72 L194.75,131.28 L195.00,132.75 L195.26,134.15 L195.51,135.45 L195.76,136.67 L196.02,137.79 L196.27,138.81 L196.52,139.73 L196.78,140.55 L197.03,141.27 L197.28,141.88 L197.54,142.38 L197.79,142.77 L198.04,143.05 L198.30,143.21 L198.55,143.27 L198.80,143.22 L199.06,143.07 L199.31,142.83 L199.56,142.48 L199.81,142.04 L200.07,141.50 L200.32,140.87 L200.57,140.15 L200.82,139.33 L201.08,138.42 L201.33,137.43 L201.58,136.35 L201.83,135.19 L202.09,133.95 L202.34,132.63 L202.59,131.24 L202.84,129.77 L203.10,128.24 L203.35,126.65 L203.60,124.99 L203.85,123.28 L204.11,121.52 L204.36,119.71 L204.61,117.85 L204.87,115.96 L205.12,114.03 L205.37,112.07 L205.62,110.09 L205.88,108.08 L206.13,106.06 L206.38,104.02 L206.63,101.98 L206.89,99.93 L207.14,97.89 L207.39,95.85 L207.64,93.83 L207.90,91.82 L208.15,89.84 L208.40,87.88 L208.65,85.95 L208.91,84.06 L209.16,82.20 L209.41,80.39 L209.67,78.63 L209.92,76.92 L210.17,75.26 L210.42,73.67 L210.68,72.14 L210.93,70.67 L211.18,69.28 L211.43,67.96 L211.69,66.72 L211.94,65.56 L212.19,64.48 L212.44,63.49 L212.70,62.58 L212.95,61.76 L213.20,61.04 L213.45,60.41 L213.71,59.87 L213.96,59.43 L214.21,59.08 L214.46,58.84 L214.72,58.69 L214.97,58.64 L215.22,58.70 L215.48,58.86 L215.73,59.14 L215.98,59.53 L216.24,60.03 L216.49,60.64 L216.74,61.36 L217.00,62.18 L217.25,63.10 L217.50,64.13 L217.76,65.25 L218.01,66.47 L218.26,67.77 L218.52,69.17 L218.77,70.65 L219.02,72.21 L219.28,73.85 L219.53,75.56 L219.78,77.33 L220.04,79.17 L220.29,81.07 L220.54,83.02 L220.80,85.01 L221.05,87.05 L221.30,89.13 L221.56,91.24 L221.81,93.37 L222.06,95.52 L222.32,97.69 L222.57,99.86 L222.82,102.04 L223.07,104.22 L223.33,106.39 L223.58,108.54 L223.83,110.67 L224.09,112.78 L224.34,114.86 L224.59,116.90 L224.85,118.89 L225.10,120.84 L225.35,122.74 L225.61,124.58 L225.86,126.35 L226.11,128.06 L226.37,129.70 L226.62,131.26 L226.87,132.74 L227.13,134.13 L227.38,135.44 L227.63,136.66 L227.89,137.78 L228.14,138.80 L228.39,139.73 L228.65,140.55 L228.90,141.27 L229.15,141.87 L229.41,142.37 L229.66,142.77 L229.91,143.05 L230.17,143.21 L230.42,143.27 L230.67,143.22 L230.93,143.07 L231.18,142.83 L231.43,142.48 L231.68,142.04 L231.94,141.50 L232.19,140.87 L232.44,140.15 L232.69,139.33 L232.95,138.42 L233.20,137.43 L233.45,136.35 L233.70,135.19 L233.96,133.95 L234.21,132.63 L234.46,131.24 L234.71,129.77 L234.97,128.24 L235.22,126.65 L235.47,124.99 L235.72,123.28 L235.98,121.52 L236.23,119.71 L236.48,117.85 L236.74,115.96 L236.99,114.03 L237.24,112.07 L237.49,110.09 L237.75,108.08 L238.00,106.06 L238.25,104.02 L238.50,101.98 L238.76,99.93 L239.01,97.89 L239.26,95.85 L239.51,93.83 L239.77,91.82 L240.02,89.84 L240.27,87.88 L240.52,85.95 L240.78,84.06 L241.03,82.20 L241.28,80.39 L241.54,78.63 L241.79,76.92 L242.04,75.26 L242.29,73.67 L242.55,72.14 L242.80,70.67 L243.05,69.28 L243.30,67.96 L243.56,66.72 L243.81,65.56 L244.06,64.48 L244.31,63.49 L244.57,62.58 L244.82,61.76 L245.07,61.04 L245.32,60.41 L245.58,59.87 L245.83,59.43 L246.08,59.08 L246.33,58.84 L246.59,58.69 L246.84,58.64 L247.09,58.70 L247.35,58.86 L247.60,59.14 L247.85,59.53 L248.11,60.03 L248.36,60.64 L248.61,61.36 L248.87,62.18 L249.12,63.10 L249.37,64.13 L249.63,65.25 L249.88,66.47 L250.13,67.77 L250.39,69.17 L250.64,70.65 L250.89,72.21 L251.15,73.85 L251.40,75.56 L251.65,77.33 L251.91,79.17 L252.16,81.07 L252.41,83.02 L252.67,85.01 L252.92,87.05 L253.17,89.13 L253.43,91.24 L253.68,93.37 L253.93,95.52 L254.19,97.69 L254.44,99.86 L254.69,102.04 L254.94,104.22 L255.20,106.39 L255.45,108.54 L255.70,110.67 L255.96,112.78 L256.21,114.86 L256.46,116.90 L256.72,118.89 L256.97,120.84 L257.22,122.74 L257.48,124.58 L257.73,126.35 L257.98,128.06 L258.24,129.70 L258.49,131.26 L258.74,132.74 L259.00,134.13 L259.25,135.44 L259.50,136.66 L259.76,137.78 L260.01,138.80 L260.26,139.73 L260.52,140.55 L260.77,141.27 L261.02,141.87 L261.28,142.37 L261.53,142.77 L261.78,143.05 L262.04,143.21 L262.29,143.27 L262.54,143.22 L262.80,143.07 L263.05,142.83 L263.30,142.48 L263.55,142.04 L263.81,141.50 L264.06,140.87 L264.31,140.15 L264.56,139.33 L264.82,138.42 L265.07,137.43 L265.32,136.35 L265.57,135.19 L265.83,133.95 L266.08,132.63 L266.33,131.24 L266.58,129.77 L266.84,128.24 L267.09,126.65 L267.34,124.99 L267.59,123.28 L267.85,121.52 L268.10,119.71 L268.35,117.85 L268.61,115.96 L268.86,114.03 L269.11,112.07 L269.36,110.09 L269.62,108.08 L269.87,106.06 L270.12,104.02 L270.37,101.98 L270.63,99.93 L270.88,97.89 L271.13,95.85 L271.38,93.83 L271.64,91.82 L271.89,89.84 L272.14,87.88 L272.39,85.95 L272.65,84.06 L272.90,82.20 L273.15,80.39 L273.41,78.63 L273.66,76.92 L273.91,75.26 L274.16,73.67 L274.42,72.14 L274.67,70.67 L274.92,69.28 L275.17,67.96 L275.43,66.72 L275.68,65.56 L275.93,64.48 L276.18,63.49 L276.44,62.58 L276.69,61.76 L276.94,61.04 L277.19,60.41 L277.45,59.87 L277.70,59.43 L277.95,59.08 L278.20,58.84 L278.46,58.69 L278.71,58.64 L278.96,58.70 L279.22,58.86 L279.47,59.14 L279.72,59.53 L279.98,60.03 L280.23,60.64 L280.48,61.36 L280.74,62.18 L280.99,63.10 L281.24,64.13 L281.50,65.25 L281.75,66.47 L282.00,67.77 L282.26,69.17 L282.51,70.65 L282.76,72.21 L283.02,73.85 L283.27,75.56 L283.52,77.33 L283.78,79.17 L284.03,81.07 L284.28,83.02 L284.54,85.01 L284.79,87.05 L285.04,89.13 L285.30,91.24 L285.55,93.37 L285.80,95.52 L286.06,97.69 L286.31,99.86 L286.56,102.04 L286.81,104.22 L287.07,106.39 L287.32,108.54 L287.57,110.67 L287.83,112.78 L288.08,114.86 L288.33,116.90 L288.59,118.89 L288.84,120.84 L289.09,122.74 L289.35,124.58 L289.60,126.35 L289.85,128.06 L290.11,129.70 L290.36,131.26 L290.61,132.74 L290.87,134.13 L291.12,135.44 L291.37,136.66 L291.63,137.78 L291.88,138.80 L292.13,139.73 L292.39,140.55 L292.64,141.27 L292.89,141.87 L293.15,142.37 L293.40,142.77 L293.65,143.05 L293.91,143.21 L294.16,143.27 L294.41,143.22 L294.66,143.07 L294.92,142.82 L295.17,142.46 L295.42,142.01 L295.67,141.47 L295.93,140.82 L296.18,140.08 L296.43,139.25 L296.68,138.32 L296.93,137.31 L297.19,136.21 L297.44,135.03 L297.69,133.76 L297.94,132.42 L298.20,131.00 L298.45,129.51 L298.70,127.95 L298.95,126.33 L299.20,124.65 L299.46,122.91 L299.71,121.13 L299.96,119.29 L300.21,117.41 L300.46,115.49 L300.72,113.54 L300.97,111.56 L301.22,109.55 L301.47,107.52 L301.73,105.48 L301.98,103.43 L302.23,101.38 L302.48,99.32 L302.73,97.27 L302.99,95.23 L303.24,93.20 L303.49,91.20 L303.74,89.22 L304.00,87.26 L304.25,85.35 L304.50,83.47 L304.75,81.63 L305.00,79.84 L305.26,78.10 L305.51,76.42 L305.76,74.80 L306.01,73.24 L306.26,71.76 L306.52,70.34 L306.77,68.99 L307.02,67.73 L307.27,66.55 L307.53,65.45 L307.78,64.43 L308.03,63.51 L308.28,62.67 L308.53,61.93 L308.79,61.29 L309.04,60.74 L309.29,60.29 L309.54,59.94 L309.80,59.69 L310.05,59.54 L310.30,59.49 L310.56,59.55 L310.81,59.72 L311.07,60.02 L311.33,60.43 L311.58,60.95 L311.84,61.58 L312.10,62.30 L312.35,63.11 L312.61,64.00 L312.87,64.96 L313.12,65.98 L313.38,67.05 L313.64,68.15 L313.89,69.28 L314.15,70.43 L314.41,71.57 L314.66,72.70 L314.92,73.81 L315.18,74.88 L315.43,75.90 L315.69,76.86 L315.95,77.75 L316.20,78.56 L316.46,79.28 L316.72,79.90 L316.97,80.42 L317.23,80.83 L317.49,81.13 L317.74,81.31 L318.00,81.37 L318.26,80.93 L318.53,79.65 L318.79,77.63 L319.05,75.04 L319.32,72.09 L319.58,69.01 L319.85,66.05 L320.11,63.46 L320.37,61.45 L320.64,60.17 L320.90,59.73 L321.15,60.00 L321.40,60.82 L321.65,62.18 L321.90,64.04 L322.15,66.39 L322.40,69.18 L322.65,72.37 L322.90,75.92 L323.15,79.76 L323.40,83.83 L323.65,88.07 L323.90,92.42 L324.15,96.80 L324.40,101.14 L324.65,105.39 L324.90,109.46 L325.15,113.30 L325.40,116.84 L325.65,120.03 L325.90,122.83 L326.15,125.17 L326.40,127.04 L326.65,128.39 L326.90,129.21 L327.15,129.49 L327.40,129.22 L327.65,128.41 L327.90,127.08 L328.15,125.26 L328.40,122.97 L328.65,120.24 L328.90,117.14 L329.15,113.71 L329.40,110.01 L329.65,106.10 L329.90,102.05 L330.15,97.93 L330.40,93.81 L330.65,89.76 L330.90,85.86 L331.15,82.15 L331.40,78.72 L331.65,75.62 L331.90,72.90 L332.15,70.60 L332.40,68.78 L332.65,67.45 L332.90,66.65 L333.15,66.38 L333.41,66.67 L333.67,67.55 L333.93,68.99 L334.19,70.97 L334.45,73.45 L334.71,76.39 L334.97,79.73 L335.23,83.41 L335.49,87.36 L335.75,91.51 L336.01,95.78 L336.27,100.09 L336.53,104.35 L336.79,108.50 L337.05,112.45 L337.31,116.13 L337.57,119.47 L337.83,122.41 L338.09,124.89 L338.35,126.87 L338.61,128.32 L338.87,129.19 L339.13,129.49 L339.38,129.21 L339.63,128.40 L339.88,127.05 L340.13,125.20 L340.38,122.88 L340.63,120.12 L340.88,116.98 L341.13,113.50 L341.38,109.75 L341.63,105.79 L341.88,101.68 L342.13,97.51 L342.38,93.33 L342.63,89.23 L342.88,85.27 L343.13,81.52 L343.38,78.04 L343.63,74.90 L343.88,72.14 L344.13,69.82 L344.38,67.96 L344.63,66.62 L344.88,65.80 L345.13,65.53 L345.39,65.83 L345.65,66.72 L345.91,68.18 L346.17,70.19 L346.43,72.70 L346.69,75.68 L346.95,79.07 L347.21,82.80 L347.47,86.80 L347.73,91.00 L347.99,95.33 L348.25,99.69 L348.51,104.01 L348.77,108.22 L349.03,112.22 L349.29,115.95 L349.55,119.34 L349.81,122.31 L350.07,124.83 L350.33,126.84 L350.59,128.30 L350.85,129.19 L351.11,129.49 L351.36,129.21 L351.61,128.40 L351.86,127.05 L352.11,125.20 L352.36,122.88 L352.61,120.12 L352.86,116.98 L353.11,113.50 L353.36,109.75 L353.61,105.79 L353.86,101.68 L354.11,97.51 L354.36,93.33 L354.61,89.23 L354.86,85.27 L355.11,81.52 L355.36,78.04 L355.61,74.90 L355.86,72.14 L356.11,69.82 L356.36,67.96 L356.61,66.62 L356.86,65.80 L357.11,65.53 L357.37,65.83 L357.63,66.72 L357.89,68.18 L358.15,70.19 L358.41,72.70 L358.67,75.68 L358.93,79.07 L359.19,82.80 L359.45,86.80 L359.71,91.00 L359.97,95.33 L360.23,99.69 L360.49,104.01 L360.75,108.22 L361.01,112.22 L361.27,115.95 L361.53,119.34 L361.79,122.31 L362.05,124.83 L362.31,126.84 L362.57,128.30 L362.83,129.19 L363.09,129.49 L363.34,129.21 L363.59,128.40 L363.84,127.05 L364.09,125.20 L364.34,122.88 L364.59,120.12 L364.84,116.98 L365.09,113.50 L365.34,109.75 L365.59,105.79 L365.84,101.68 L366.09,97.51 L366.34,93.33 L366.59,89.23 L366.84,85.27 L367.09,81.52 L367.34,78.04 L367.59,74.90 L367.84,72.14 L368.09,69.82 L368.34,67.96 L368.59,66.62 L368.84,65.80 L369.09,65.53 L369.35,65.83 L369.61,66.72 L369.87,68.18 L370.13,70.19 L370.39,72.70 L370.65,75.68 L370.91,79.07 L371.17,82.80 L371.43,86.80 L371.69,91.00 L371.95,95.33 L372.21,99.69 L372.47,104.01 L372.73,108.22 L372.99,112.22 L373.25,115.95 L373.51,119.34 L373.77,122.31 L374.03,124.83 L374.29,126.84 L374.55,128.30 L374.81,129.19 L375.07,129.49 L375.32,129.21 L375.57,128.40 L375.82,127.05 L376.07,125.20 L376.32,122.88 L376.57,120.12 L376.82,116.98 L377.07,113.50 L377.32,109.75 L377.57,105.79 L377.82,101.68 L378.07,97.51 L378.32,93.33 L378.57,89.23 L378.82,85.27 L379.07,81.52 L379.32,78.04 L379.57,74.90 L379.82,72.14 L380.07,69.82 L380.32,67.96 L380.57,66.62 L380.82,65.80 L381.07,65.53 L381.33,65.83 L381.59,66.72 L381.85,68.18 L382.11,70.19 L382.37,72.70 L382.63,75.68 L382.89,79.07 L383.15,82.80 L383.41,86.80 L383.67,91.00 L383.93,95.33 L384.19,99.69 L384.45,104.01 L384.71,108.22 L384.97,112.22 L385.23,115.95 L385.49,119.34 L385.75,122.31 L386.01,124.83 L386.27,126.84 L386.53,128.30 L386.79,129.19 L387.05,129.49 L387.30,129.21 L387.55,128.40 L387.80,127.05 L388.05,125.20 L388.30,122.88 L388.55,120.12 L388.80,116.98 L389.05,113.50 L389.30,109.75 L389.55,105.79 L389.80,101.68 L390.05,97.51 L390.30,93.33 L390.55,89.23 L390.80,85.27 L391.05,81.52 L391.30,78.04 L391.55,74.90 L391.80,72.14 L392.05,69.82 L392.30,67.96 L392.55,66.62 L392.80,65.80 L393.05,65.53 L393.31,65.83 L393.57,66.72 L393.83,68.18 L394.09,70.19 L394.35,72.70 L394.61,75.68 L394.87,79.07 L395.13,82.80 L395.39,86.80 L395.65,91.00 L395.91,95.33 L396.17,99.69 L396.43,104.01 L396.69,108.22 L396.95,112.22 L397.21,115.95 L397.47,119.34 L397.73,122.31 L397.99,124.83 L398.25,126.84 L398.51,128.30 L398.77,129.19 L399.03,129.49 L399.28,129.21 L399.53,128.40 L399.78,127.05 L400.03,125.20 L400.28,122.88 L400.53,120.12 L400.78,116.98 L401.03,113.50 L401.28,109.75 L401.53,105.79 L401.78,101.68 L402.03,97.51 L402.28,93.33 L402.53,89.23 L402.78,85.27 L403.03,81.52 L403.28,78.04 L403.53,74.90 L403.78,72.14 L404.03,69.82 L404.28,67.96 L404.53,66.62 L404.78,65.80 L405.03,65.53 L405.29,65.83 L405.55,66.72 L405.81,68.18 L406.07,70.19 L406.33,72.70 L406.59,75.68 L406.85,79.07 L407.11,82.80 L407.37,86.80 L407.63,91.00 L407.89,95.33 L408.15,99.69 L408.41,104.01 L408.67,108.22 L408.93,112.22 L409.19,115.95 L409.45,119.34 L409.71,122.31 L409.97,124.83 L410.23,126.84 L410.49,128.30 L410.75,129.19 L411.01,129.49 L411.26,129.21 L411.51,128.40 L411.76,127.05 L412.01,125.20 L412.26,122.88 L412.51,120.12 L412.76,116.98 L413.01,113.50 L413.26,109.75 L413.51,105.79 L413.76,101.68 L414.01,97.51 L414.26,93.33 L414.51,89.23 L414.76,85.27 L415.01,81.52 L415.26,78.04 L415.51,74.90 L415.76,72.14 L416.01,69.82 L416.26,67.96 L416.51,66.62 L416.76,65.80 L417.01,65.53 L417.27,65.83 L417.53,66.72 L417.79,68.18 L418.05,70.19 L418.31,72.70 L418.57,75.68 L418.83,79.07 L419.09,82.80 L419.35,86.80 L419.61,91.00 L419.87,95.33 L420.13,99.69 L420.39,104.01 L420.65,108.22 L420.91,112.22 L421.17,115.95 L421.43,119.34 L421.69,122.31 L421.95,124.83 L422.21,126.84 L422.47,128.30 L422.73,129.19 L422.99,129.49 L423.24,129.21 L423.49,128.40 L423.74,127.05 L423.99,125.20 L424.24,122.88 L424.49,120.12 L424.74,116.98 L424.99,113.50 L425.24,109.75 L425.49,105.79 L425.74,101.68 L425.99,97.51 L426.24,93.33 L426.49,89.23 L426.74,85.27 L426.99,81.52 L427.24,78.04 L427.49,74.90 L427.74,72.14 L427.99,69.82 L428.24,67.96 L428.49,66.62 L428.74,65.80 L428.99,65.53 L429.25,65.83 L429.51,66.72 L429.77,68.18 L430.03,70.19 L430.29,72.70 L430.55,75.68 L430.81,79.07 L431.07,82.80 L431.33,86.80 L431.59,91.00 L431.85,95.33 L432.11,99.69 L432.37,104.01 L432.63,108.22 L432.89,112.22 L433.15,115.95 L433.41,119.34 L433.67,122.31 L433.93,124.83 L434.19,126.84 L434.45,128.30 L434.71,129.19 L434.97,129.49 L435.22,129.21 L435.47,128.40 L435.72,127.05 L435.97,125.20 L436.22,122.88 L436.47,120.12 L436.72,116.98 L436.97,113.50 L437.22,109.75 L437.47,105.79 L437.72,101.68 L437.97,97.51 L438.22,93.33 L438.47,89.23 L438.72,85.27 L438.97,81.52 L439.22,78.04 L439.47,74.90 L439.72,72.14 L439.97,69.82 L440.22,67.96 L440.47,66.62 L440.72,65.80 L440.97,65.53 L441.23,65.83 L441.49,66.72 L441.75,68.18 L442.01,70.19 L442.27,72.70 L442.53,75.68 L442.79,79.07 L443.05,82.80 L443.31,86.80 L443.57,91.00 L443.83,95.33 L444.09,99.69 L444.35,104.01 L444.61,108.22 L444.87,112.22 L445.13,115.95 L445.39,119.34 L445.65,122.31 L445.91,124.83 L446.17,126.84 L446.43,128.30 L446.69,129.19 L446.95,129.49 L447.20,129.21 L447.45,128.40 L447.70,127.05 L447.95,125.20 L448.20,122.88 L448.45,120.12 L448.70,116.98 L448.95,113.50 L449.20,109.75 L449.45,105.79 L449.70,101.68 L449.95,97.51 L450.20,93.33 L450.45,89.23 L450.70,85.27 L450.95,81.52 L451.20,78.04 L451.45,74.90 L451.70,72.14 L451.95,69.82 L452.20,67.96 L452.45,66.62 L452.70,65.80 L452.95,65.53 L453.21,65.83 L453.47,66.72 L453.73,68.18 L453.99,70.19 L454.25,72.70 L454.51,75.68 L454.77,79.07 L455.03,82.80 L455.29,86.80 L455.55,91.00 L455.81,95.33 L456.07,99.69 L456.33,104.01 L456.59,108.22 L456.85,112.22 L457.11,115.95 L457.37,119.34 L457.63,122.31 L457.89,124.83 L458.15,126.84 L458.41,128.30 L458.67,129.19 L458.93,129.49 L459.18,129.21 L459.43,128.40 L459.68,127.05 L459.93,125.20 L460.18,122.88 L460.43,120.12 L460.68,116.98 L460.93,113.50 L461.18,109.75 L461.43,105.79 L461.68,101.68 L461.93,97.51 L462.18,93.33 L462.43,89.23 L462.68,85.27 L462.93,81.52 L463.18,78.04 L463.43,74.90 L463.68,72.14 L463.93,69.82 L464.18,67.96 L464.43,66.62 L464.68,65.80 L464.93,65.53 L465.19,65.83 L465.45,66.72 L465.71,68.18 L465.97,70.19 L466.23,72.70 L466.49,75.68 L466.75,79.07 L467.01,82.80 L467.27,86.80 L467.53,91.00 L467.79,95.33 L468.05,99.69 L468.31,104.01 L468.57,108.22 L468.83,112.22 L469.09,115.95 L469.35,119.34 L469.61,122.31 L469.87,124.83 L470.13,126.84 L470.39,128.30 L470.65,129.19 L470.91,129.49 L471.16,129.21 L471.41,128.40 L471.66,127.05 L471.91,125.20 L472.16,122.88 L472.41,120.12 L472.66,116.98 L472.91,113.50 L473.16,109.75 L473.41,105.79 L473.66,101.68 L473.91,97.51 L474.16,93.33 L474.41,89.23 L474.66,85.27 L474.91,81.52 L475.16,78.04 L475.41,74.90 L475.66,72.14 L475.91,69.82 L476.16,67.96 L476.41,66.62 L476.66,65.80 L476.91,65.53 L477.17,65.83 L477.43,66.72 L477.69,68.18 L477.95,70.19 L478.21,72.70 L478.47,75.68 L478.73,79.07 L478.99,82.80 L479.25,86.80 L479.51,91.00 L479.77,95.33 L480.03,99.69 L480.29,104.01 L480.55,108.22 L480.81,112.22 L481.07,115.95 L481.33,119.34 L481.59,122.31 L481.85,124.83 L482.11,126.84 L482.37,128.30 L482.63,129.19 L482.89,129.49 L483.14,129.21 L483.39,128.40 L483.64,127.05 L483.89,125.20 L484.14,122.88 L484.39,120.12 L484.64,116.98 L484.89,113.50 L485.14,109.75 L485.39,105.79 L485.64,101.68 L485.89,97.51 L486.14,93.33 L486.39,89.23 L486.64,85.27 L486.89,81.52 L487.14,78.04 L487.39,74.90 L487.64,72.14 L487.89,69.82 L488.14,67.96 L488.39,66.62 L488.64,65.80 L488.89,65.53 L489.15,65.83 L489.41,66.72 L489.67,68.18 L489.93,70.19 L490.19,72.70 L490.45,75.68 L490.71,79.07 L490.97,82.80 L491.23,86.80 L491.49,91.00 L491.75,95.33 L492.01,99.69 L492.27,104.01 L492.53,108.22 L492.79,112.22 L493.05,115.95 L493.31,119.34 L493.57,122.31 L493.83,124.83 L494.09,126.84 L494.35,128.30 L494.61,129.19 L494.87,129.49 L495.12,129.21 L495.37,128.40 L495.62,127.05 L495.87,125.20 L496.12,122.88 L496.37,120.12 L496.62,116.98 L496.87,113.50 L497.12,109.75 L497.37,105.79 L497.62,101.68 L497.87,97.51 L498.12,93.33 L498.37,89.23 L498.62,85.27 L498.87,81.52 L499.12,78.04 L499.37,74.90 L499.62,72.14 L499.87,69.82 L500.12,67.96 L500.37,66.62 L500.62,65.80 L500.87,65.53 L501.13,65.83 L501.39,66.72 L501.65,68.18 L501.91,70.19 L502.17,72.70 L502.43,75.68 L502.69,79.07 L502.95,82.80 L503.21,86.80 L503.47,91.00 L503.73,95.33 L503.99,99.69 L504.25,104.01 L504.51,108.22 L504.77,112.22 L505.03,115.95 L505.29,119.34 L505.55,122.31 L505.81,124.83 L506.07,126.84 L506.33,128.30 L506.59,129.19 L506.85,129.49 L507.10,129.21 L507.35,128.40 L507.60,127.05 L507.85,125.20 L508.10,122.88 L508.35,120.12 L508.60,116.98 L508.85,113.50 L509.10,109.75 L509.35,105.79 L509.60,101.68 L509.85,97.51 L510.10,93.33 L510.35,89.23 L510.60,85.27 L510.85,81.52 L511.10,78.04 L511.35,74.90 L511.60,72.14 L511.85,69.82 L512.10,67.96 L512.35,66.62 L512.60,65.80 L512.85,65.53 L513.11,65.83 L513.37,66.72 L513.63,68.18 L513.89,70.19 L514.15,72.70 L514.41,75.68 L514.67,79.07 L514.93,82.80 L515.19,86.80 L515.45,91.00 L515.71,95.33 L515.97,99.69 L516.23,104.01 L516.49,108.22 L516.75,112.22 L517.01,115.95 L517.27,119.34 L517.53,122.31 L517.79,124.83 L518.05,126.84 L518.31,128.30 L518.57,129.19 L518.83,129.49 L519.08,129.21 L519.33,128.40 L519.58,127.05 L519.83,125.20 L520.08,122.88 L520.33,120.12 L520.58,116.98 L520.83,113.50 L521.08,109.75 L521.33,105.79 L521.58,101.68 L521.83,97.51 L522.08,93.33 L522.33,89.23 L522.58,85.27 L522.83,81.52 L523.08,78.04 L523.33,74.90 L523.58,72.14 L523.83,69.82 L524.08,67.96 L524.33,66.62 L524.58,65.80 L524.83,65.53 L525.09,65.83 L525.35,66.72 L525.61,68.18 L525.87,70.19 L526.13,72.70 L526.39,75.68 L526.65,79.07 L526.91,82.80 L527.17,86.80 L527.43,91.00 L527.69,95.33 L527.95,99.69 L528.21,104.01 L528.47,108.22 L528.73,112.22 L528.99,115.95 L529.25,119.34 L529.51,122.31 L529.77,124.83 L530.03,126.84 L530.29,128.30 L530.55,129.19 L530.81,129.49" stroke="#f010d0" stroke-width="1.4" stroke-linejoin="round"/>
</g>
<rect x="74.9" y="27.85" width="456.1" height="212.6" fill="none" stroke="#262626" stroke-width="1.4"/>
<line x1="166.0" y1="240.45" x2="166.0" y2="235.95" stroke="#262626" stroke-width="1.2"/>
<line x1="166.0" y1="27.85" x2="166.0" y2="32.35" stroke="#262626" stroke-width="1.2"/>
<line x1="257.3" y1="240.45" x2="257.3" y2="235.95" stroke="#262626" stroke-width="1.2"/>
<line x1="257.3" y1="27.85" x2="257.3" y2="32.35" stroke="#262626" stroke-width="1.2"/>
<line x1="348.6" y1="240.45" x2="348.6" y2="235.95" stroke="#262626" stroke-width="1.2"/>
<line x1="348.6" y1="27.85" x2="348.6" y2="32.35" stroke="#262626" stroke-width="1.2"/>
<line x1="439.95" y1="240.45" x2="439.95" y2="235.95" stroke="#262626" stroke-width="1.2"/>
<line x1="439.95" y1="27.85" x2="439.95" y2="32.35" stroke="#262626" stroke-width="1.2"/>
<line x1="74.9" y1="39.9" x2="79.4" y2="39.9" stroke="#262626" stroke-width="1.2"/>
<line x1="531.0" y1="39.9" x2="526.5" y2="39.9" stroke="#262626" stroke-width="1.2"/>
<line x1="74.9" y1="100.33" x2="79.4" y2="100.33" stroke="#262626" stroke-width="1.2"/>
<line x1="531.0" y1="100.33" x2="526.5" y2="100.33" stroke="#262626" stroke-width="1.2"/>
<line x1="74.9" y1="160.77" x2="79.4" y2="160.77" stroke="#262626" stroke-width="1.2"/>
<line x1="531.0" y1="160.77" x2="526.5" y2="160.77" stroke="#262626" stroke-width="1.2"/>
<line x1="74.9" y1="221.2" x2="79.4" y2="221.2" stroke="#262626" stroke-width="1.2"/>
<line x1="531.0" y1="221.2" x2="526.5" y2="221.2" stroke="#262626" stroke-width="1.2"/>
<rect x="381.6" y="185.0" width="148.39999999999998" height="54.900000000000006" fill="#fff" stroke="#262626" stroke-width="1.2"/>
<line x1="386" y1="199.4" x2="436.5" y2="199.4" stroke="#000" stroke-width="3.8" stroke-dasharray="2.0 1.5"/>
<line x1="386" y1="226.6" x2="435" y2="226.6" stroke="#f010d0" stroke-width="1.4"/>
<text x="439.3" y="207.7" font-size="21.4" text-anchor="start" textLength="56.2" lengthAdjust="spacingAndGlyphs">Actual</text>
<text x="439.3" y="234.0" font-size="21.4" text-anchor="start" textLength="85.6" lengthAdjust="spacingAndGlyphs">Estimated</text>
<text x="182.3" y="22.1" font-size="23.6" text-anchor="start" textLength="238.5" lengthAdjust="spacingAndGlyphs">Perturbation comparison</text>
<text x="256.4" y="292.3" font-size="25.6" text-anchor="start" textLength="93.4" lengthAdjust="spacingAndGlyphs">Time (s)</text>
<text x="25.7" y="244.8" font-size="24.3" text-anchor="start" textLength="203.2" lengthAdjust="spacingAndGlyphs" transform="rotate(-90 25.7 244.8)">Perturbation (N.m)</text>
<text x="74.0" y="272.8" font-size="24" text-anchor="middle">0</text>
<text x="165.3" y="272.8" font-size="24" text-anchor="middle">2</text>
<text x="256.6" y="272.8" font-size="24" text-anchor="middle">4</text>
<text x="349.3" y="272.8" font-size="24" text-anchor="middle">6</text>
<text x="440.4" y="272.8" font-size="24" text-anchor="middle">8</text>
<text x="532.2" y="272.8" font-size="24" text-anchor="middle">10</text>
<text x="65.6" y="49.7" font-size="24" text-anchor="end">5</text>
<text x="65.6" y="109.5" font-size="24" text-anchor="end">0</text>
<text x="65.6" y="170.3" font-size="24" text-anchor="end">-5</text>
<text x="65.6" y="231.6" font-size="24" text-anchor="end">-10</text>
</svg>
</body></html>
